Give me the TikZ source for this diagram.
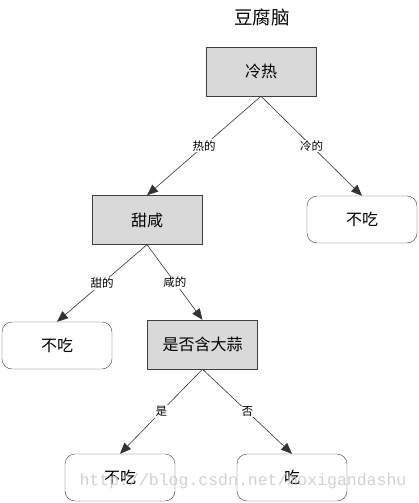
\documentclass[tikz,border=0pt]{standalone}
\usepackage{fontspec}
\setmonofont{Liberation Mono}
\newfontfamily\cjk{Noto Sans CJK SC}
\usetikzlibrary{arrows.meta}
\begin{document}
\begin{tikzpicture}[x=1pt,y=-1pt,font=\cjk,
  >={Triangle[length=11pt,width=9pt]},
  testbox/.style={draw=black!75,fill=black!15,minimum width=110pt,minimum height=49pt,inner sep=0pt,font=\cjk\fontsize{16}{19}\selectfont},
  leafbox/.style={draw=black!75,fill=white,rounded corners=10pt,minimum width=110pt,minimum height=47pt,inner sep=0pt,font=\cjk\fontsize{16}{19}\selectfont},
  branch/.style={fill=white,inner sep=1pt,text=black,font=\cjk\fontsize{11.5}{13}\selectfont}]

\useasboundingbox (0,0) rectangle (419,503);

\node (title) at (262,17) {\fontsize{18.5}{21}\selectfont 豆腐脑};

\node[testbox] (lr) at (261,71.5) {冷热};
\node[testbox] (tx) at (147,220) {甜咸};
\node[leafbox] (no1) at (362,219.5) {不吃};
\node[leafbox] (no2) at (57,345.5) {不吃};
\node[testbox] (gar) at (202.5,344.5) {是否含大蒜};
\node[leafbox] (no3) at (120,477.5) {不吃};
\node[leafbox] (yes) at (292,477.5) {吃};

\begin{scope}[->,black!80,line width=0.6pt]
\draw (lr.south) -- node[branch] {热的} (tx.north);
\draw (lr.south) -- node[branch] {冷的} (no1.north);
\draw (tx.south) -- node[branch] {甜的} (no2.north);
\draw (tx.south) -- node[branch] {咸的} (gar.north);
\draw (gar.south) -- node[branch] {是} (no3.north);
\draw (gar.south) -- node[branch] {否} (yes.north);
\end{scope}

% watermark
\node[text=black!22,opacity=0.8,font=\ttfamily\fontsize{16.5}{18}\selectfont] (wm) at (243,481) {http://blog.csdn.net/moxigandashu};

\end{tikzpicture}
\end{document}
